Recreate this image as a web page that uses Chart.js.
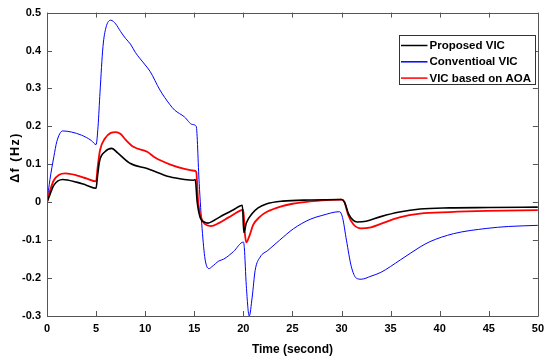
<!DOCTYPE html>
<html>
<head>
<meta charset="utf-8">
<script src="https://cdn.jsdelivr.net/npm/chart.js@4.4.0/dist/chart.umd.min.js"></script>
<style>
  body { margin: 0; background: #fff; }
  #wrap { width: 550px; height: 357px; }
</style>
</head>
<body>
<div id="wrap"><canvas id="freq-chart" width="550" height="357"></canvas></div>
<script>
// values
const xTicks = [0, 5, 10, 15, 20, 25, 30, 35, 40, 45, 50];
const yTicks = [-0.3, -0.2, -0.1, 0, 0.1, 0.2, 0.3, 0.4, 0.5];

const seriesNames = ['Proposed VIC', 'Conventioal VIC', 'VIC based on AOA'];
const yTitle = 'Δf (Hz)';

const proposedT = [0, 0.3, 0.7, 1.6, 3.0, 4.0, 5.0, 5.15, 5.35, 5.9, 6.6, 7.2, 8.5, 10.2, 12.5, 14.0, 14.9, 15.1,
    15.3, 15.6, 16.0, 16.4, 17.0, 18.0, 19.0, 19.9, 20.05, 20.3, 20.9, 21.5, 22.4, 24.0, 26.8, 30.0,
    30.3, 30.7, 31.2, 31.6, 32.5, 34.0, 35.9, 38.0, 41.0, 45.0, 50.0];
const proposedF = [0, 0.02, 0.045, 0.06, 0.053, 0.045, 0.037, 0.07, 0.108, 0.133, 0.142, 0.13, 0.102, 0.089, 0.067, 0.06, 0.058, 0.06,
    0.0, -0.04, -0.052, -0.055, -0.048, -0.033, -0.02, -0.008, -0.08, -0.055, -0.03, -0.015, -0.004, 0.003, 0.006, 0.007,
    0.0, -0.03, -0.048, -0.052, -0.05, -0.038, -0.026, -0.018, -0.015, -0.014, -0.013];

const conventionalT = [0, 0.3, 0.7, 1.0, 1.6, 2.5, 3.5, 4.5, 5.0, 5.2, 5.4, 5.7, 6.0, 6.5, 7.0, 7.5, 8.0, 8.5, 9.0, 10.0,
    10.5, 11.5, 12.5, 13.0, 14.0, 14.8, 15.2, 15.5, 15.8, 16.1, 16.5, 16.8, 17.5, 18.0, 19.0, 20.0,
    20.1, 20.3, 20.6, 20.9, 21.2, 21.7, 22.5, 23.7, 25.1, 26.8, 28.0, 29.8,
    30.1, 30.5, 31.0, 31.5, 32.0, 33.0, 34.0, 36.0, 38.0, 39.0, 41.4, 44.8, 47.0, 50.0];
const conventionalF = [0, 0.06, 0.12, 0.16, 0.188, 0.185, 0.177, 0.163, 0.152, 0.2, 0.29, 0.41, 0.46, 0.48, 0.47, 0.45, 0.432, 0.417, 0.395, 0.362,
    0.345, 0.296, 0.258, 0.243, 0.225, 0.205, 0.2, 0.05, -0.07, -0.15, -0.175, -0.17, -0.155, -0.15, -0.13, -0.105,
    -0.12, -0.22, -0.3, -0.25, -0.18, -0.145, -0.127, -0.1, -0.07, -0.045, -0.035, -0.025,
    -0.04, -0.1, -0.17, -0.2, -0.203, -0.195, -0.185, -0.152, -0.118, -0.104, -0.083, -0.069, -0.064, -0.061];

const aoaT = [0, 0.3, 0.7, 1.2, 1.9, 3.0, 4.0, 5.0, 5.15, 5.4, 5.9, 6.5, 7.0, 7.5, 8.0, 8.8, 10.2, 11.0, 12.5, 14.0, 15.0, 15.2,
    15.4, 15.7, 16.1, 16.7, 17.5, 18.5, 19.8, 20.0, 20.15, 20.3, 20.6, 21.0, 21.7, 22.5, 23.7, 25.0, 26.8, 28.0, 30.0,
    30.3, 30.7, 31.2, 32.0, 33.0, 34.0, 35.9, 38.0, 41.0, 44.8, 50.0];
const aoaF = [0, 0.03, 0.058, 0.072, 0.076, 0.071, 0.063, 0.055, 0.09, 0.137, 0.168, 0.183, 0.185, 0.18, 0.165, 0.146, 0.133, 0.118, 0.1, 0.088, 0.083, 0.08,
    0.0, -0.04, -0.058, -0.063, -0.055, -0.04, -0.021, -0.02, -0.08, -0.106, -0.09, -0.06, -0.038, -0.024, -0.012, -0.004, 0.002, 0.005, 0.007,
    0.0, -0.035, -0.058, -0.069, -0.066, -0.057, -0.04, -0.03, -0.026, -0.023, -0.021];

const axisColor = '#555555';
const fontFamily = '"Liberation Sans", Arial, sans-serif';

function toPoints(ts, fs) {
    return ts.map((t, i) => ({ x: t, y: fs[i] }));
}

// box round the plot area, inward ticks, y title and the legend, like a matlab figure
const matlabFrame = {
    id: 'matlabFrame',
    afterDraw(chart) {
        const ctx = chart.ctx;
        const a = chart.chartArea;
        const xs = chart.scales.x;
        const ys = chart.scales.y;
        const len = 5;

        ctx.save();
        ctx.strokeStyle = axisColor;
        ctx.lineWidth = 1;
        ctx.beginPath();
        ctx.rect(Math.round(a.left) + 0.5, Math.round(a.top) + 0.5, Math.round(a.right - a.left), Math.round(a.bottom - a.top));
        xs.ticks.forEach(t => {
            const px = Math.round(xs.getPixelForValue(t.value)) + 0.5;
            ctx.moveTo(px, a.bottom); ctx.lineTo(px, a.bottom - len);
            ctx.moveTo(px, a.top); ctx.lineTo(px, a.top + len);
        });
        ys.ticks.forEach(t => {
            const py = Math.round(ys.getPixelForValue(t.value)) + 0.5;
            ctx.moveTo(a.left, py); ctx.lineTo(a.left + len, py);
            ctx.moveTo(a.right, py); ctx.lineTo(a.right - len, py);
        });
        ctx.stroke();

        // y axis title, a bit wider spaced than chart.js would draw it
        ctx.save();
        ctx.translate(16, 157.5);
        ctx.rotate(-Math.PI / 2);
        ctx.font = 'bold 12.5px ' + fontFamily;
        if ('letterSpacing' in ctx) ctx.letterSpacing = '1.5px';
        ctx.fillStyle = '#000';
        ctx.textAlign = 'center';
        ctx.textBaseline = 'middle';
        ctx.fillText(yTitle, 0, 0);
        ctx.restore();

        // legend
        const bx = 399.5, by = 35.5, bw = 136, bh = 49;
        ctx.fillStyle = '#fff';
        ctx.fillRect(bx, by, bw, bh);
        ctx.strokeStyle = '#333';
        ctx.strokeRect(bx, by, bw, bh);
        ctx.font = 'bold 11.5px ' + fontFamily;
        ctx.textBaseline = 'middle';
        ctx.textAlign = 'left';
        chart.data.datasets.forEach((ds, i) => {
            const yy = by + 10 + i * 16.3;
            ctx.strokeStyle = ds.borderColor;
            ctx.lineWidth = 1.5;
            ctx.beginPath();
            ctx.moveTo(bx + 1.5, yy);
            ctx.lineTo(bx + 28, yy);
            ctx.stroke();
            ctx.fillStyle = '#000';
            ctx.fillText(ds.label, bx + 30, yy + 0.5);
        });
        ctx.restore();
    }
};

new Chart(document.getElementById('freq-chart'), {
    type: 'line',
    data: {
        datasets: [
            {
                label: seriesNames[0],
                data: toPoints(proposedT, proposedF),
                borderColor: '#000000',
                borderWidth: 1.6,
                order: 1
            },
            {
                label: seriesNames[1],
                data: toPoints(conventionalT, conventionalF),
                borderColor: '#0000ff',
                borderWidth: 1,
                order: 3
            },
            {
                label: seriesNames[2],
                data: toPoints(aoaT, aoaF),
                borderColor: '#ff0000',
                borderWidth: 1.8,
                order: 2
            }
        ]
    },
    options: {
        responsive: false,
        animation: false,
        events: [],
        cubicInterpolationMode: 'monotone',
        elements: {
            point: { radius: 0 },
            line: { fill: false }
        },
        layout: {
            padding: { top: 12, right: 12, left: 0, bottom: 0 }
        },
        plugins: {
            legend: { display: false },
            tooltip: { enabled: false }
        },
        scales: {
            x: {
                type: 'linear',
                min: 0,
                max: 50,
                afterBuildTicks: s => { s.ticks = xTicks.map(v => ({ value: v })); },
                afterFit: s => { s.height = 41; },
                grid: { display: false, drawTicks: false },
                border: { display: false },
                ticks: {
                    color: '#000',
                    padding: 6,
                    font: { family: fontFamily, size: 11, weight: 'bold' },
                    callback: v => String(v)
                },
                title: {
                    display: true,
                    text: 'Time (second)',
                    color: '#000',
                    padding: { top: 7, bottom: 0 },
                    font: { family: fontFamily, size: 12, weight: 'bold' }
                }
            },
            y: {
                min: -0.3,
                max: 0.5,
                afterBuildTicks: s => { s.ticks = yTicks.map(v => ({ value: v })); },
                afterFit: s => { s.width = 47; },
                grid: { display: false, drawTicks: false },
                border: { display: false },
                ticks: {
                    color: '#000',
                    padding: 6,
                    font: { family: fontFamily, size: 11, weight: 'bold' },
                    callback: v => String(Math.round(v * 10) / 10)
                }
            }
        }
    },
    plugins: [matlabFrame]
});
</script>
</body>
</html>
